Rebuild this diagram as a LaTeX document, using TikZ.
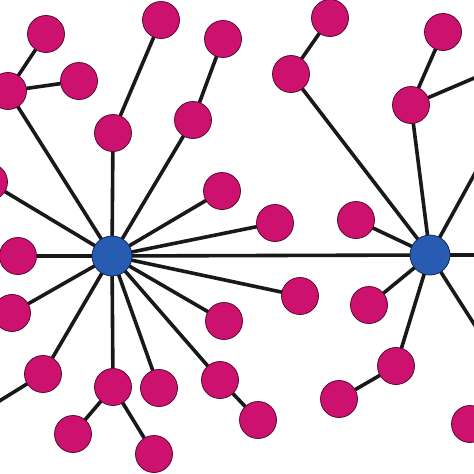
\documentclass[tikz,border=0pt]{standalone}
\usetikzlibrary{backgrounds}
\definecolor{pinkfill}{RGB}{204,18,110}
\definecolor{pinkline}{RGB}{90,10,50}
\definecolor{bluefill}{RGB}{40,92,178}
\definecolor{blueline}{RGB}{20,40,90}
\tikzset{
  leaf/.style={circle,fill=pinkfill,draw=pinkline,line width=0.8pt,minimum size=37pt,inner sep=0pt},
  hub/.style={circle,fill=bluefill,draw=blueline,line width=0.8pt,minimum size=40pt,inner sep=0pt},
  link/.style={line width=3.6pt,color=black!90}
}
\begin{document}
\begin{tikzpicture}[x=1pt,y=-1pt]
\useasboundingbox (0,0) rectangle (474,474);
\node[hub] (hA) at (112,256) {};
\node[hub] (hB) at (430,255) {};
\node[leaf] (p1) at (46,34) {};
\node[leaf] (p2) at (8,91) {};
\node[leaf] (p3) at (79,81) {};
\node[leaf] (p4) at (161,20) {};
\node[leaf] (p5) at (223,39) {};
\node[leaf] (p6) at (113,133) {};
\node[leaf] (p7) at (193,120) {};
\node[leaf] (p8) at (-11,182) {};
\node[leaf] (p9) at (222,191) {};
\node[leaf] (q1) at (330,18) {};
\node[leaf] (q2) at (291,74) {};
\node[leaf] (q3) at (443,32) {};
\node[leaf] (q4) at (411,105) {};
\node[leaf] (q6) at (275,223) {};
\node[leaf] (q7) at (356,220) {};
\node[leaf] (r1) at (18,256) {};
\node[leaf] (r2) at (12,313) {};
\node[leaf] (r3) at (43,374) {};
\node[leaf] (r4) at (113,387) {};
\node[leaf] (r5) at (159,388) {};
\node[leaf] (r6) at (73,434) {};
\node[leaf] (r7) at (154,454) {};
\node[leaf] (r8) at (224,321) {};
\node[leaf] (r9) at (220,380) {};
\node[leaf] (s1) at (300,296) {};
\node[leaf] (s2) at (369,305) {};
\node[leaf] (s3) at (396,366) {};
\node[leaf] (s4) at (339,399) {};
\node[leaf] (s5) at (258,420) {};
\node[leaf] (s6) at (470,424) {};
\coordinate (eQ4) at (500,67);
\coordinate (eB1) at (485,155);
\coordinate (eB2) at (495,255);
\coordinate (eB3) at (490,349);
\coordinate (eR3) at (-20,413);
\begin{scope}[on background layer]
\fill[white] (-30,-30) rectangle (504,504);
\foreach \n in {p2,p6,p7,p8,p9,q6,r1,r2,r3,r4,r5,r8,r9,s1,hB}
  \draw[link] (hA.center) -- (\n.center);
\foreach \n in {q2,q4,q7,s2,s3}
  \draw[link] (hB.center) -- (\n.center);
\draw[link] (hB.center) -- (eB1);
\draw[link] (hB.center) -- (eB2);
\draw[link] (hB.center) -- (eB3);
\draw[link] (q4.center) -- (eQ4);
\draw[link] (r3.center) -- (eR3);
\draw[link] (p1.center) -- (p2.center);
\draw[link] (p3.center) -- (p2.center);
\draw[link] (p4.center) -- (p6.center);
\draw[link] (p5.center) -- (p7.center);
\draw[link] (q1.center) -- (q2.center);
\draw[link] (q3.center) -- (q4.center);
\draw[link] (r4.center) -- (r6.center);
\draw[link] (r4.center) -- (r7.center);
\draw[link] (r9.center) -- (s5.center);
\draw[link] (s3.center) -- (s4.center);
\end{scope}
\end{tikzpicture}
\end{document}
